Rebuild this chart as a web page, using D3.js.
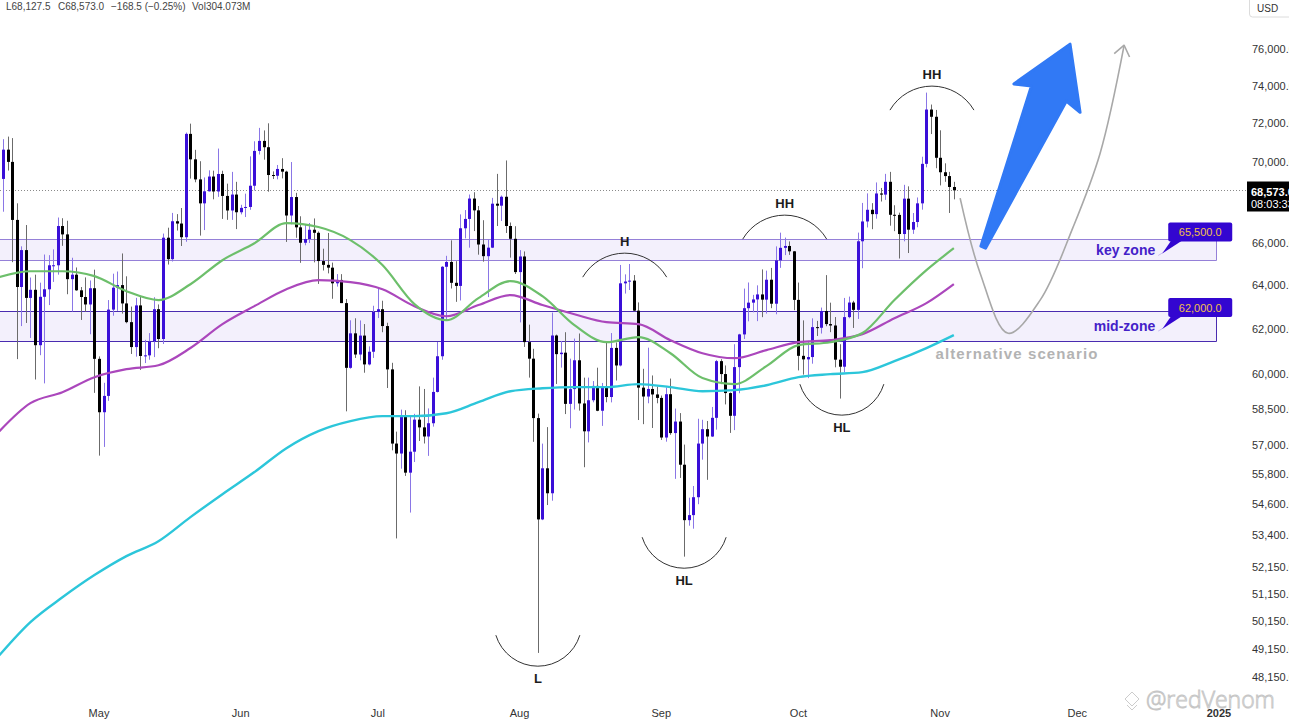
<!DOCTYPE html>
<html>
<head>
<meta charset="utf-8">
<script src="https://cdn.jsdelivr.net/npm/d3@7"></script>
<style>
  html, body { margin: 0; padding: 0; background: #fff; overflow: hidden; }
  svg { display: block; font-family: "Liberation Sans", Arial, sans-serif; }
</style>
</head>
<body>
<svg id="chart" width="1289" height="722"></svg>
<script>
// daily candles: date, open, high, low, close
const candles = [
  ["2024-04-10",69146,71172,67518,70631],["2024-04-11",70631,71305,69567,70006],["2024-04-12",70006,71227,65086,67116],
  ["2024-04-13",67116,67931,60660,63924],["2024-04-14",63924,65840,62134,65661],["2024-04-15",65661,66867,62275,63419],
  ["2024-04-16",63419,64365,61600,63793],["2024-04-17",63793,64499,59768,61277],["2024-04-18",61277,64125,60833,63470],
  ["2024-04-19",63470,65450,59600,63818],["2024-04-20",63818,65419,63090,64940],["2024-04-21",64940,65695,64160,64941],
  ["2024-04-22",64941,67233,64500,66819],["2024-04-23",66819,67199,65864,66414],["2024-04-24",66414,67075,63589,64289],
  ["2024-04-25",64289,65297,62794,64498],["2024-04-26",64498,64837,63750,63770],["2024-04-27",63770,63923,62411,63461],
  ["2024-04-28",63461,64370,62781,63118],["2024-04-29",63118,64228,61765,63866],["2024-04-30",63866,64734,59191,60672],
  ["2024-05-01",60672,60780,56552,58364],["2024-05-02",58364,59625,56911,59060],["2024-05-03",59060,63320,58848,62882],
  ["2024-05-04",62882,64545,62603,63892],["2024-05-05",63892,64646,62823,64012],["2024-05-06",64012,65500,62700,63165],
  ["2024-05-07",63165,64422,62261,62312],["2024-05-08",62312,63020,60888,61194],["2024-05-09",61194,63421,60769,63074],
  ["2024-05-10",63074,63470,60187,60799],["2024-05-11",60799,61515,60487,60826],["2024-05-12",60826,61818,60633,61446],
  ["2024-05-13",61446,63450,60750,62901],["2024-05-14",62901,63118,61142,61553],["2024-05-15",61553,66454,61330,66255],
  ["2024-05-16",66255,66738,64975,65231],["2024-05-17",65231,67459,65119,67051],["2024-05-18",67051,67400,66600,66940],
  ["2024-05-19",66940,67700,65857,66278],["2024-05-20",66278,71515,66060,71446],["2024-05-21",71446,71979,69162,70136],
  ["2024-05-22",70136,70623,68977,69122],["2024-05-23",69122,70041,66356,67929],["2024-05-24",67929,69220,66622,68526],
  ["2024-05-25",68526,69579,68515,69265],["2024-05-26",69265,69562,68128,68518],["2024-05-27",68518,70687,68250,69394],
  ["2024-05-28",69394,69558,67165,68296],["2024-05-29",68296,68909,67120,67578],["2024-05-30",67578,69500,67118,68364],
  ["2024-05-31",68364,69000,66670,67491],["2024-06-01",67491,67857,67387,67706],["2024-06-02",67706,68409,67257,67751],
  ["2024-06-03",67751,70288,67612,68804],["2024-06-04",68804,71063,68567,70567],["2024-06-05",70567,71758,70383,71082],
  ["2024-06-06",71082,71625,70119,70757],["2024-06-07",70757,71997,68507,69342],["2024-06-08",69342,69524,69140,69305],
  ["2024-06-09",69305,69850,69125,69648],["2024-06-10",69648,70195,69172,69512],["2024-06-11",69512,69558,66051,67332],
  ["2024-06-12",67332,69999,66902,68241],["2024-06-13",68241,68449,66251,66756],["2024-06-14",66756,67294,65056,66012],
  ["2024-06-15",66012,66895,65891,66191],["2024-06-16",66191,66965,66000,66639],["2024-06-17",66639,67188,65078,66491],
  ["2024-06-18",66491,66556,64066,65140],["2024-06-19",65140,65727,64693,64960],["2024-06-20",64960,66482,64559,64828],
  ["2024-06-21",64828,65066,63379,64096],["2024-06-22",64096,64525,63943,64252],["2024-06-23",64252,64523,63180,63180],
  ["2024-06-24",63180,63369,58402,60277],["2024-06-25",60277,62396,60239,61807],["2024-06-26",61807,62487,60712,60864],
  ["2024-06-27",60864,62389,60606,61706],["2024-06-28",61706,62225,60063,60427],["2024-06-29",60427,61224,60384,60986],
  ["2024-06-30",60986,63058,60712,62772],["2024-07-01",62772,63861,62497,62900],["2024-07-02",62900,63289,61858,62135],
  ["2024-07-03",62135,62285,59400,60209],["2024-07-04",60209,60498,56771,57050],["2024-07-05",57050,57546,53250,56639],
  ["2024-07-06",56639,58475,56018,58230],["2024-07-07",58230,58449,55724,55857],["2024-07-08",55857,58236,54260,56714],
  ["2024-07-09",56714,58296,56290,58050],["2024-07-10",58050,59470,57157,57725],["2024-07-11",57725,59359,57053,57344],
  ["2024-07-12",57344,58526,56542,57899],["2024-07-13",57899,59850,57756,59231],["2024-07-14",59231,61420,59208,60787],
  ["2024-07-15",60787,64900,60632,64870],["2024-07-16",64870,65388,62373,65097],["2024-07-17",65097,66128,63854,64118],
  ["2024-07-18",64118,65133,63238,63974],["2024-07-19",63974,67386,63300,66710],["2024-07-20",66710,67598,66222,67164],
  ["2024-07-21",67164,68366,65777,68166],["2024-07-22",68166,68480,66574,67584],["2024-07-23",67584,67798,65442,65928],
  ["2024-07-24",65928,67102,65111,65372],["2024-07-25",65372,66175,63456,65777],["2024-07-26",65777,68200,65757,67912],
  ["2024-07-27",67912,69400,66819,67814],["2024-07-28",67814,68318,67066,68255],["2024-07-29",68255,70079,66482,66820],
  ["2024-07-30",66820,66990,65302,66201],["2024-07-31",66201,66810,64530,64620],["2024-08-01",64620,65660,62300,65357],
  ["2024-08-02",65357,65596,61200,61415],["2024-08-03",61415,62198,59850,60680],["2024-08-04",60680,61117,57122,58116],
  ["2024-08-05",58116,58305,49000,53991],["2024-08-06",53991,57048,53962,56034],["2024-08-07",56034,57736,54558,55027],
  ["2024-08-08",55027,62745,54730,61710],["2024-08-09",61710,61752,59575,60880],["2024-08-10",60880,61464,60287,60945],
  ["2024-08-11",60945,61858,58286,58719],["2024-08-12",58719,60680,57688,59354],["2024-08-13",59354,61572,58478,60609],
  ["2024-08-14",60609,61800,58433,58737],["2024-08-15",58737,59849,56078,57560],["2024-08-16",57560,59850,57098,58874],
  ["2024-08-17",58874,59700,58786,59491],["2024-08-18",59491,60284,58408,58427],["2024-08-19",58427,59618,57787,59438],
  ["2024-08-20",59438,61432,58786,59013],["2024-08-21",59013,61820,58783,61156],["2024-08-22",61156,61400,59724,60381],
  ["2024-08-23",60381,64955,60342,64094],["2024-08-24",64094,64513,63619,64178],["2024-08-25",64178,65000,63784,64220],
  ["2024-08-26",64220,64481,62800,62834],["2024-08-27",62834,63212,58034,59416],["2024-08-28",59416,60235,57860,59034],
  ["2024-08-29",59034,61166,58745,59359],["2024-08-30",59359,59944,57700,59123],["2024-08-31",59123,59462,58744,58974],
  ["2024-09-01",58974,59076,57201,57301],["2024-09-02",57301,59425,57128,59133],["2024-09-03",59133,59809,57415,57487],
  ["2024-09-04",57487,58519,55606,57970],["2024-09-05",57970,58327,55643,56180],["2024-09-06",56180,57008,52550,53962],
  ["2024-09-07",53962,54850,53745,54160],["2024-09-08",54160,55318,53629,54869],["2024-09-09",54869,58088,54591,57050],
  ["2024-09-10",57050,58044,56386,57649],["2024-09-11",57649,57994,55567,57343],["2024-09-12",57343,58588,57324,58127],
  ["2024-09-13",58127,60625,57632,60571],["2024-09-14",60571,60656,59567,60005],["2024-09-15",60005,60381,58696,59182],
  ["2024-09-16",59182,59211,57493,58213],["2024-09-17",58213,61320,57610,60309],["2024-09-18",60309,61786,59174,61759],
  ["2024-09-19",61759,63850,61555,62947],["2024-09-20",62947,64133,62350,63201],["2024-09-21",63201,63559,62758,63348],
  ["2024-09-22",63348,64000,62357,63579],["2024-09-23",63579,64745,62538,63339],["2024-09-24",63339,64688,62700,64262],
  ["2024-09-25",64262,64817,62947,63152],["2024-09-26",63152,65839,62670,65173],["2024-09-27",65173,66498,64819,65769],
  ["2024-09-28",65769,66260,65422,65858],["2024-09-29",65858,66076,65432,65602],["2024-09-30",65602,65618,62856,63327],
  ["2024-10-01",63327,64130,60164,60805],["2024-10-02",60805,62392,59981,60649],["2024-10-03",60649,61470,59828,60752],
  ["2024-10-04",60752,62484,60459,62086],["2024-10-05",62086,62370,61689,62058],["2024-10-06",62058,62975,61798,62819],
  ["2024-10-07",62819,64478,62128,62224],["2024-10-08",62224,63200,61860,62160],["2024-10-09",62160,62543,60300,60636],
  ["2024-10-10",60636,61320,58946,60326],["2024-10-11",60326,63417,60087,62540],["2024-10-12",62540,63480,62487,63206],
  ["2024-10-13",63206,63285,62050,62870],["2024-10-14",62870,66500,62457,66083],["2024-10-15",66083,67950,64800,67041],
  ["2024-10-16",67041,68424,66750,67612],["2024-10-17",67612,67939,66666,67399],["2024-10-18",67399,68969,67177,68418],
  ["2024-10-19",68418,68694,68020,68362],["2024-10-20",68362,69400,68100,69001],["2024-10-21",69001,69500,66835,67367],
  ["2024-10-22",67367,67836,66571,67361],["2024-10-23",67361,67472,65260,66432],["2024-10-24",66432,68850,66080,68161],
  ["2024-10-25",68161,68773,65521,66642],["2024-10-26",66642,67454,66439,67014],["2024-10-27",67014,68220,66760,67929],
  ["2024-10-28",67929,70270,67618,69907],["2024-10-29",69907,73620,69730,72720],["2024-10-30",72720,72985,71436,72339],
  ["2024-10-31",72339,72700,69685,70215],["2024-11-01",70215,71632,68820,69482],["2024-11-02",69482,69934,69000,69289],
  ["2024-11-03",69289,69500,67456,68742],["2024-11-04",68742,69000,68127,68573]
];

// moving averages, one value per week
const maDates = ["2024-04-09","2024-04-16","2024-04-23","2024-04-30","2024-05-07","2024-05-14","2024-05-21","2024-05-28",
  "2024-06-04","2024-06-11","2024-06-18","2024-06-25","2024-07-02","2024-07-09","2024-07-16","2024-07-23","2024-07-30",
  "2024-08-06","2024-08-13","2024-08-20","2024-08-27","2024-09-03","2024-09-10","2024-09-17","2024-09-24","2024-10-01",
  "2024-10-08","2024-10-15","2024-10-22","2024-10-29","2024-11-04"];
const maFast = [64380,64660,64660,64430,63730,63320,64050,65180,65990,66960,66770,66140,64950,63130,62400,63410,64200,
  63500,62180,61410,61640,60920,59830,59570,60350,61280,61410,61820,63320,64710,65750];
const maMid = [57520,58750,59220,59870,60220,60390,61150,62220,63040,63820,64240,64150,63820,63040,62580,63090,63550,
  63090,62670,62310,62220,61500,60920,60700,61060,61410,61500,61770,62490,63180,64060];
const maSlow = [48880,50110,51020,51850,52570,53140,54080,54990,55880,56860,57570,57990,58200,58200,58320,58790,59260,
  59390,59440,59440,59570,59440,59260,59310,59520,59870,60000,60090,60570,61150,61730];

const priceTicks = [76000,74000,72000,70000,66000,64000,62000,60000,58500,57000,55800,54600,53400,52150,51150,50150,49150,48150];
const monthTicks = ["2024-05-01","2024-06-01","2024-07-01","2024-08-01","2024-09-01","2024-10-01","2024-11-01","2024-12-01","2025-01-01"];
const lastPrice = 68573;

// zones
const zoneNames = ["key zone", "mid-zone"];
const zoneTop = [66200, 62800];
const zoneBottom = [65200, 61450];
const zoneLevel = [65500, 62000];
const zoneStart = "2024-04-01";
const zoneEnd = "2024-12-31T10:00:00Z";
const calloutDate = "2024-12-19T14:00:00Z";

// swing pivots (apex of each arc)
const pivotLabels = ["L", "HL", "HL", "H", "HH", "HH"];
const pivotDates = ["2024-08-05", "2024-09-06", "2024-10-10T12:00:00Z", "2024-08-24", "2024-09-28", "2024-10-30T05:00:00Z"];
const pivotPrices = [48530, 52110, 58240, 65515, 67350, 73970];
const pivotSide = [-1, -1, -1, 1, 1, 1];

// projections
const arrowTail = ["2024-11-10T10:00:00Z", 65800];
const arrowTip = ["2024-11-29T10:00:00Z", 76260];
const altPath = [
  ["2024-11-05T09:00:00Z", 68190], ["2024-11-09T18:00:00Z", 64570], ["2024-11-15T21:00:00Z", 61810],
  ["2024-11-22T21:00:00Z", 63315], ["2024-11-30T02:00:00Z", 66765], ["2024-12-06T00:00:00Z", 70450],
  ["2024-12-11T06:00:00Z", 76200]
];
const altLabel = ["2024-10-31", 60920];

const parse = (s) => new Date(s.length > 10 ? s : s + "T00:00:00Z");

const svg = d3.select("#chart");
const plotRight = 1246, plotBottom = 700;

const x = d3.scaleUtc().domain([parse("2024-05-01"), parse("2025-01-01")]).range([99, 1219]);
const y = d3.scaleLog().domain([47352, 78745]).range([plotBottom, 0]);

svg.append("defs").append("clipPath").attr("id", "plot")
  .append("rect").attr("x", 0).attr("y", 0).attr("width", plotRight).attr("height", plotBottom);

const plot = svg.append("g").attr("clip-path", "url(#plot)");

// zones
const zx0 = x(parse(zoneStart)), zx1 = Math.round(x(parse(zoneEnd))) + 0.5;
const zoneStroke = ["#9580d8", "#4a2cb0"];
zoneNames.forEach((name, i) => {
  const t = Math.round(y(zoneTop[i])) + 0.5, b = Math.round(y(zoneBottom[i])) + 0.5;
  plot.append("rect").attr("x", zx0).attr("y", t).attr("width", zx1 - zx0).attr("height", b - t)
    .attr("fill", "#f3f0fc").attr("stroke", "none");
  plot.append("path").attr("d", `M${zx0},${t}H${zx1}V${b}H${zx0}`)
    .attr("fill", "none").attr("stroke", zoneStroke[i]).attr("stroke-width", 1);
});

// last price dotted line
const yLast = Math.round(y(lastPrice)) + 0.5;
plot.append("line").attr("x1", 0).attr("x2", plotRight).attr("y1", yLast).attr("y2", yLast)
  .attr("stroke", "#8a8a8a").attr("stroke-dasharray", "1,2");

// candles
const up = "#3a0fd8", upWick = "#8a76e6", down = "#000", downWick = "#6b6b6b";
const cg = plot.append("g");
cg.selectAll("line").data(candles).join("line")
  .attr("x1", (d) => Math.round(x(parse(d[0]))) + 0.5)
  .attr("x2", (d) => Math.round(x(parse(d[0]))) + 0.5)
  .attr("y1", (d) => y(d[2]))
  .attr("y2", (d) => y(d[3]))
  .attr("stroke", (d) => (d[4] >= d[1] ? upWick : downWick))
  .attr("stroke-width", 1);
cg.selectAll("rect").data(candles).join("rect")
  .attr("x", (d) => Math.round(x(parse(d[0]))) - 1)
  .attr("width", 3)
  .attr("y", (d) => y(Math.max(d[1], d[4])))
  .attr("height", (d) => Math.max(1, Math.abs(y(d[1]) - y(d[4]))))
  .attr("fill", (d) => (d[4] >= d[1] ? up : down));

// moving averages
const maLine = d3.line().x((d) => x(d[0])).y((d) => y(d[1])).curve(d3.curveMonotoneX);
[[maSlow, "#2cc6da", 2.4], [maMid, "#ab47bc", 2.2], [maFast, "#6dbf6b", 2.2]].forEach(([vals, col, w]) => {
  const pts = maDates.map((dt, i) => [parse(dt), vals[i]]);
  plot.append("path").attr("d", maLine(pts)).attr("fill", "none")
    .attr("stroke", col).attr("stroke-width", w).attr("stroke-linejoin", "round");
});

// pivot arcs and labels
pivotLabels.forEach((lab, i) => {
  const ax = x(parse(pivotDates[i])), ay = y(pivotPrices[i]);
  const side = pivotSide[i], half = 42, sag = side > 0 ? 24 : 31;
  const ey = ay + side * sag;
  const r = (half * half + sag * sag) / (2 * sag);
  plot.append("path")
    .attr("d", `M${ax - half},${ey}A${r},${r} 0 0 ${side > 0 ? 1 : 0} ${ax + half},${ey}`)
    .attr("fill", "none").attr("stroke", "#333").attr("stroke-width", 1);
  plot.append("text").attr("x", ax).attr("y", ay - side * 12)
    .attr("text-anchor", "middle").attr("dominant-baseline", "central")
    .attr("font-size", 13).attr("font-weight", "bold").attr("fill", "#1c1c1c").text(lab);
});

// alternative scenario curve
const altPts = altPath.map((p) => [x(parse(p[0])), y(p[1])]);
plot.append("path").attr("d", d3.line().curve(d3.curveCatmullRom.alpha(0.5))(altPts))
  .attr("fill", "none").attr("stroke", "#a8a8a8").attr("stroke-width", 1.6);
{
  const p2 = altPts[altPts.length - 1], p1 = altPts[altPts.length - 2];
  const ang = Math.atan2(p2[1] - p1[1], p2[0] - p1[0]);
  const wl = 13, spread = 0.65;
  const w1 = [p2[0] - wl * Math.cos(ang - spread), p2[1] - wl * Math.sin(ang - spread)];
  const w2 = [p2[0] - wl * Math.cos(ang + spread), p2[1] - wl * Math.sin(ang + spread)];
  plot.append("path").attr("d", `M${w1}L${p2}L${w2}`).attr("fill", "none")
    .attr("stroke", "#a8a8a8").attr("stroke-width", 1.6).attr("stroke-linejoin", "round");
}
plot.append("text").attr("x", x(parse(altLabel[0]))).attr("y", y(altLabel[1]))
  .attr("dominant-baseline", "central").attr("font-size", 15).attr("font-weight", "bold")
  .attr("letter-spacing", 1.1).attr("fill", "#b3b3b3").text("alternative scenario");

// main blue arrow
{
  const t = [x(parse(arrowTail[0])), y(arrowTail[1])];
  const h = [x(parse(arrowTip[0])), y(arrowTip[1])];
  const dx = h[0] - t[0], dy = h[1] - t[1], L = Math.hypot(dx, dy);
  const ux = dx / L, uy = dy / L, nx = -uy, ny = ux, s = L / 222;
  const shape = [[0, -2.5], [168, -19], [163, -36], [222, 0], [163, 36], [168, 19], [0, 2.5]];
  const pts = shape.map(([a, b]) => [t[0] + ux * a * s + nx * b, t[1] + uy * a * s + ny * b]);
  plot.append("polygon").attr("points", pts.map((p) => p.join(",")).join(" "))
    .attr("fill", "#3179f5").attr("stroke", "#3179f5").attr("stroke-width", 3).attr("stroke-linejoin", "round");
}

// zone labels and price callouts
const cx = x(parse(calloutDate));
zoneNames.forEach((name, i) => {
  const ty = y(zoneLevel[i]);
  plot.append("text").attr("x", cx - 7).attr("y", ty - 3).attr("text-anchor", "end")
    .attr("dominant-baseline", "central").attr("font-size", 14).attr("font-weight", "bold")
    .attr("fill", "#4421c8").text(name);
  plot.append("line").attr("x1", cx - 4).attr("y1", ty + 2).attr("x2", cx + 1).attr("y2", ty - 1)
    .attr("stroke", "#c9bdf2").attr("stroke-width", 1);
  const bx = cx + 6, bb = ty - 12;
  svg.append("polygon")
    .attr("points", `${bx + 3},${bb - 1} ${bx + 14},${bb - 1} ${cx},${ty}`)
    .attr("fill", "#3306d0");
  svg.append("rect").attr("x", bx).attr("y", bb - 19).attr("width", 64).attr("height", 19).attr("rx", 2)
    .attr("fill", "#3306d0");
  svg.append("text").attr("x", bx + 32).attr("y", bb - 9.5).attr("text-anchor", "middle")
    .attr("dominant-baseline", "central").attr("font-size", 11).attr("fill", "#f2c04a")
    .text(d3.format(",.1f")(zoneLevel[i]));
});

// price axis
svg.append("g").selectAll("text").data(priceTicks).join("text")
  .attr("x", 1252).attr("y", (d) => y(d)).attr("dominant-baseline", "central")
  .attr("font-size", 11).attr("fill", "#333").text((d) => d3.format(",.1f")(d));

// last price tag
svg.append("rect").attr("x", 1247).attr("y", yLast - 9).attr("width", 50).attr("height", 30).attr("fill", "#000");
svg.append("text").attr("x", 1251).attr("y", yLast + 1).attr("dominant-baseline", "central")
  .attr("font-size", 11).attr("font-weight", 600).attr("fill", "#fff").text(d3.format(",.1f")(lastPrice));
svg.append("text").attr("x", 1251).attr("y", yLast + 13).attr("dominant-baseline", "central")
  .attr("font-size", 11).attr("fill", "#fff").text("08:03:33");

// currency box
svg.append("rect").attr("x", 1249.5).attr("y", -4).attr("width", 45).attr("height", 21).attr("rx", 3)
  .attr("fill", "#fff").attr("stroke", "#dcdcdc");
svg.append("text").attr("x", 1257).attr("y", 8).attr("dominant-baseline", "central")
  .attr("font-size", 10).attr("fill", "#333").text("USD");

// time axis
svg.append("g").selectAll("text").data(monthTicks).join("text")
  .attr("x", (d) => x(parse(d))).attr("y", 713).attr("text-anchor", "middle").attr("dominant-baseline", "central")
  .attr("font-size", 11).attr("fill", "#333")
  .attr("font-weight", (d) => (d.slice(5) === "01-01" ? "bold" : "normal"))
  .text((d) => (d.slice(5) === "01-01" ? d3.utcFormat("%Y")(parse(d)) : d3.utcFormat("%b")(parse(d))));

// legend line at top
const legend = svg.append("text").attr("y", 6).attr("dominant-baseline", "central").attr("font-size", 10).attr("fill", "#444");
[["L68,127.5", 6], ["C68,573.0", 58], ["\u2212168.5 (\u22120.25%)", 111], ["Vol304.073M", 192]].forEach(([s, px]) => {
  legend.append("tspan").attr("x", px).text(s);
});

// watermark
const wm = svg.append("g").attr("fill", "none").attr("stroke", "#c6c6c6").attr("stroke-width", 0.9);
wm.append("path").attr("d", "M1125,699 L1132,692 L1139,699 L1132,706 Z M1127,705 L1132,710 L1137,705");
wm.append("text").attr("x", 1146).attr("y", 708).attr("font-size", 23)
  .attr("font-family", "'Open Sans', sans-serif").attr("font-weight", 300).text("@redVenom");
</script>
</body>
</html>
